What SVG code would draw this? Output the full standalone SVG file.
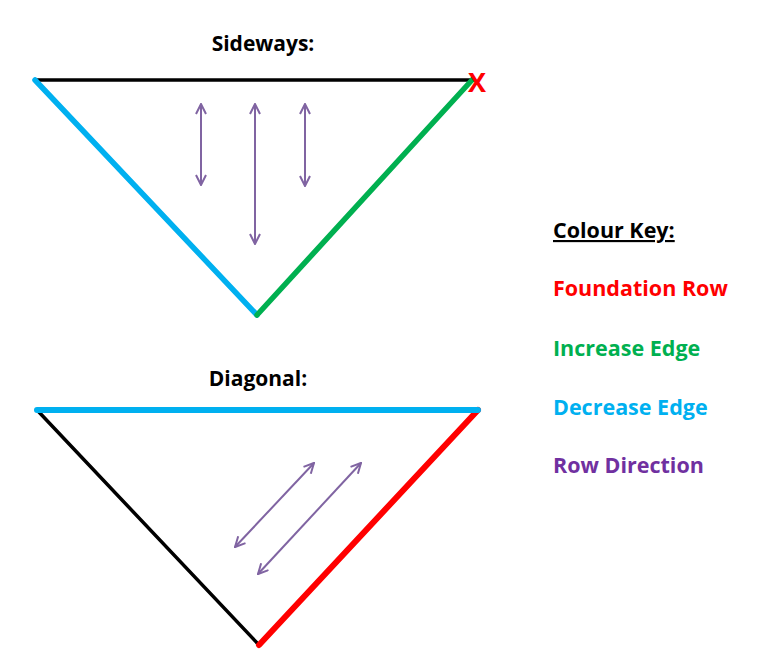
<svg xmlns="http://www.w3.org/2000/svg" width="768" height="657" viewBox="0 0 768 657">
<defs>
<marker id="ah" viewBox="0 0 12 12" refX="11" refY="6" markerWidth="12" markerHeight="12" markerUnits="userSpaceOnUse" orient="auto-start-reverse">
<path d="M1,1 L11,6 L1,11" fill="none" stroke="#8064A2" stroke-width="2"/>
</marker>
</defs>
<style>
.t{font-family:"Open Sans","Liberation Sans",sans-serif;font-weight:bold;font-size:21px}
.k{font-size:21.5px}
.arr{stroke:#8064A2;stroke-width:2;fill:none;marker-start:url(#ah);marker-end:url(#ah)}
.e{stroke-linecap:round;fill:none}
</style>
<rect width="768" height="657" fill="#fff"/>
<g id="sideways">
<text class="t" x="263" y="51" text-anchor="middle" fill="#000">Sideways:</text>
<line class="e" x1="35" y1="80" x2="472" y2="80" stroke="#000" stroke-width="3.5"/>
<line class="e" x1="35" y1="80" x2="257" y2="315" stroke="#00B0F0" stroke-width="5.5"/>
<line class="e" x1="472" y1="80" x2="257" y2="315" stroke="#00B050" stroke-width="5.5"/>
<text class="t" x="477" y="92" text-anchor="middle" fill="#FF0000" style="font-size:27px">X</text>
</g>
<g id="diagonal">
<text class="t" x="258" y="386" text-anchor="middle" fill="#000">Diagonal:</text>
<line class="e" x1="37" y1="410" x2="259" y2="645" stroke="#000" stroke-width="3.5"/>
<line class="e" x1="478" y1="410" x2="259" y2="645" stroke="#FF0000" stroke-width="6"/>
<line class="e" x1="37" y1="410" x2="478" y2="410" stroke="#00B0F0" stroke-width="6"/>
</g>
<g id="key">
<text class="t k" x="553" y="238" fill="#000" text-decoration="underline">Colour Key:</text>
<text class="t k" x="553" y="296" fill="#FF0000">Foundation Row</text>
<text class="t k" x="553" y="356" fill="#00B050">Increase Edge</text>
<text class="t k" x="553" y="415" fill="#00B0F0">Decrease Edge</text>
<text class="t k" x="553" y="473" fill="#7030A0">Row Direction</text>
</g>
<g id="connectors">
<line class="arr" x1="201" y1="104" x2="201" y2="185"/>
<line class="arr" x1="255" y1="104" x2="255" y2="244"/>
<line class="arr" x1="305" y1="104" x2="305" y2="186"/>
<line class="arr" x1="314" y1="463" x2="235" y2="547"/>
<line class="arr" x1="361" y1="463" x2="258" y2="574"/>
</g>
</svg>
